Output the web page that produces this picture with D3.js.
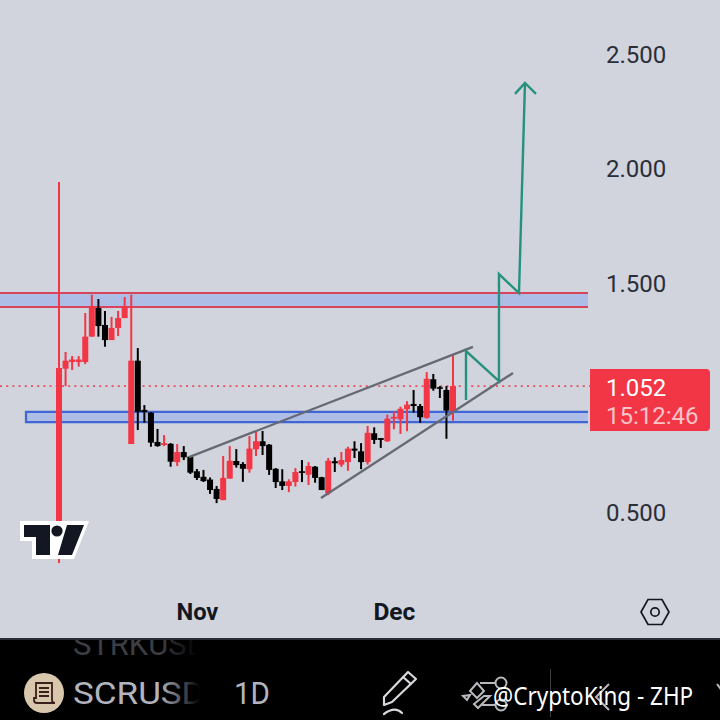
<!DOCTYPE html>
<html><head><meta charset="utf-8">
<script src="https://d3js.org/d3.v7.min.js"></script>
<style>html,body{margin:0;padding:0;background:#d1d4dc}svg{display:block}</style>
</head><body><svg id="c" width="720" height="720"></svg>
<script>
const opens=[0.358,1.128,1.157,1.157,1.157,1.268,1.393,1.319,1.253,1.306,1.349,0.799,1.163,0.948,0.936,0.808,0.795,0.800,0.720,0.764,0.744,0.680,0.656,0.644,0.603,0.554,0.648,0.725,0.712,0.689,0.776,0.811,0.796,0.691,0.636,0.616,0.633,0.680,0.665,0.700,0.654,0.584,0.724,0.709,0.720,0.779,0.767,0.720,0.846,0.825,0.811,0.910,0.907,0.951,0.974,0.965,0.913,1.082,1.047,1.035,0.942];
const closes=[1.131,1.163,1.168,1.168,1.268,1.402,1.314,1.253,1.306,1.349,1.402,1.163,0.940,0.939,0.805,0.790,0.803,0.722,0.764,0.741,0.674,0.651,0.637,0.598,0.559,0.651,0.726,0.707,0.691,0.779,0.811,0.790,0.686,0.633,0.616,0.636,0.677,0.674,0.703,0.651,0.598,0.726,0.715,0.729,0.779,0.770,0.720,0.848,0.817,0.817,0.910,0.918,0.953,0.971,0.965,0.916,1.084,1.041,1.041,0.945,1.052];
const highs=[1.943,1.201,1.183,1.183,1.371,1.451,1.432,1.380,1.354,1.380,1.441,1.451,1.218,0.969,0.939,0.865,0.838,0.803,0.799,0.790,0.744,0.690,0.686,0.653,0.616,0.747,0.790,0.777,0.720,0.834,0.851,0.856,0.799,0.694,0.689,0.645,0.694,0.729,0.720,0.703,0.656,0.738,0.741,0.764,0.787,0.811,0.803,0.878,0.872,0.825,0.927,0.942,0.962,0.986,1.035,0.974,1.113,1.105,1.052,1.052,1.186];
const lows=[0.279,1.052,1.122,1.137,1.148,1.268,1.268,1.224,1.253,1.271,1.349,0.799,0.860,0.892,0.787,0.787,0.790,0.700,0.703,0.729,0.668,0.642,0.633,0.581,0.541,0.554,0.648,0.696,0.634,0.674,0.747,0.751,0.664,0.607,0.598,0.589,0.613,0.633,0.620,0.630,0.598,0.576,0.677,0.699,0.682,0.738,0.689,0.709,0.799,0.782,0.808,0.863,0.843,0.855,0.936,0.892,0.910,1.032,1.000,0.822,0.901];
const priceTicks=[2.5,2.0,1.5,0.5];
const timeTickIndex=[21,51];
const timeTickLabels=["Nov","Dec"];
const lastPrice=1.052;
const countdown="15:12:46";
const redZone=[1.458,1.397];
const blueZone=[0.939,0.895];
const wedgeUpper=[[19.8,0.742],[63.04,1.223]];
const wedgeLower=[[39.9,0.563],[69.13,1.109]];
const projection=[[61.98,0.991],[61.98,1.205],[67.0,1.074],[67.0,1.541],[70.05,1.458],[70.96,2.376]];
const arrowHead=[[69.44,2.328],[70.96,2.376],[72.64,2.328]];

const RED="#f23645",BG="#d1d4dc",INK="#131722",FONT="Roboto, sans-serif";
const svg=d3.select("#c");
const x=d3.scaleLinear().domain([0,60]).range([59,453]);
const y=d3.scaleLinear().domain([0.5,2.5]).range([512.5,54.5]);
const paneR=588;
svg.append("rect").attr("width",720).attr("height",720).attr("fill",BG);

const line=d3.line().x(d=>x(d[0])).y(d=>y(d[1]));

// dotted last price line
svg.append("line").attr("x1",0).attr("x2",590).attr("y1",y(lastPrice)).attr("y2",y(lastPrice))
  .attr("stroke",RED).attr("stroke-width",1.8).attr("stroke-dasharray","2 4.2").attr("opacity",.85);

// zones: open on the right, as the drawing runs past the pane
svg.append("rect").attr("x",0).attr("width",paneR).attr("y",y(redZone[0])).attr("height",y(redZone[1])-y(redZone[0])).attr("fill","#aebde6");
redZone.forEach(p=>svg.append("line").attr("x1",0).attr("x2",paneR).attr("y1",y(p)).attr("y2",y(p)).attr("stroke","#d8445c").attr("stroke-width",2));
svg.append("rect").attr("x",26).attr("width",paneR-26).attr("y",y(blueZone[0])).attr("height",y(blueZone[1])-y(blueZone[0])).attr("fill","#aebde6");
svg.append("path").attr("d",`M${paneR},${y(blueZone[0])}H26V${y(blueZone[1])}H${paneR}`).attr("fill","none").attr("stroke","#3f66d4").attr("stroke-width",2.2);

// candles
const idx=d3.range(opens.length);
const col=i=>closes[i]>=opens[i]?RED:"#000";
const g=svg.append("g");
g.selectAll("line").data(idx).join("line")
  .attr("x1",x).attr("x2",x).attr("y1",i=>y(highs[i])).attr("y2",i=>y(lows[i]))
  .attr("stroke",col).attr("stroke-width",2);
g.selectAll("rect").data(idx).join("rect")
  .attr("x",i=>x(i)-3).attr("width",6)
  .attr("y",i=>y(Math.max(opens[i],closes[i])))
  .attr("height",i=>Math.max(1.6,Math.abs(y(opens[i])-y(closes[i]))))
  .attr("fill",col);

// drawings
[wedgeUpper,wedgeLower].forEach(l=>svg.append("path").attr("d",line(l)).attr("fill","none").attr("stroke","#666872").attr("stroke-width",2.3));
[projection,arrowHead].forEach(l=>svg.append("path").attr("d",line(l)).attr("fill","none").attr("stroke","#26917f").attr("stroke-width",2.4).attr("stroke-linejoin","miter"));

// axes
const yAxis=d3.axisRight(y).tickValues(priceTicks).tickFormat(d3.format(".3f")).tickSize(0).tickPadding(0);
const ya=svg.append("g").attr("transform","translate(606,0)").call(yAxis);
ya.select(".domain").remove();
ya.selectAll("text").attr("font-family",FONT).attr("font-size",24).attr("fill","#2a2e39");
const xAxis=d3.axisBottom(x).tickValues(timeTickIndex).tickFormat((d,i)=>timeTickLabels[i]).tickSize(0).tickPadding(0);
const xa=svg.append("g").attr("transform","translate(0,603)").call(xAxis);
xa.select(".domain").remove();
xa.selectAll("text").attr("font-family",FONT).attr("font-size",23.5).attr("font-weight",700).attr("fill",INK).attr("textLength",42).attr("lengthAdjust","spacingAndGlyphs");

// price tag
svg.append("path").attr("d","M590,369H706a4,4 0 0 1 4,4V427a4,4 0 0 1 -4,4H590Z").attr("fill",RED);
svg.append("text").text(d3.format(".3f")(lastPrice)).attr("x",606).attr("y",396).attr("font-family",FONT).attr("font-size",24).attr("fill","#fff");
svg.append("text").text(countdown).attr("x",606).attr("y",424).attr("font-family",FONT).attr("font-size",24).attr("fill","#fbc4ca");

// TV logo
svg.append("path").attr("d","M20,521H89L74,559H32V541H20Z").attr("fill","#fff");
svg.append("path").attr("d","M24,525H50V555H36V537H24Z M67,525H84L72,555H58Z").attr("fill",INK);
svg.append("circle").attr("cx",57).attr("cy",531).attr("r",5.6).attr("fill",INK);

// settings hexagon
svg.append("path").attr("d","M641,612L648,599.5H662L669,612L662,624.5H648Z").attr("fill","none").attr("stroke",INK).attr("stroke-width",1.7);
svg.append("circle").attr("cx",655).attr("cy",612).attr("r",4.2).attr("fill","none").attr("stroke",INK).attr("stroke-width",1.7);

// bottom bar
svg.append("rect").attr("y",639).attr("width",720).attr("height",81).attr("fill","#000");
svg.append("rect").attr("y",638).attr("width",720).attr("height",2).attr("fill","#2a2e39");
const defs=svg.append("defs");
const grad=defs.append("linearGradient").attr("id","fade").attr("gradientUnits","userSpaceOnUse").attr("x1",160).attr("x2",200).attr("y1",0).attr("y2",0);
grad.append("stop").attr("offset",0).attr("stop-color","#b2b5be");
grad.append("stop").attr("offset",1).attr("stop-color","#b2b5be").attr("stop-opacity",0);
const grad2=defs.append("linearGradient").attr("id","fade2").attr("gradientUnits","userSpaceOnUse").attr("x1",160).attr("x2",198).attr("y1",0).attr("y2",0);
grad2.append("stop").attr("offset",0).attr("stop-color","#3c3e44");
grad2.append("stop").attr("offset",1).attr("stop-color","#3c3e44").attr("stop-opacity",0);
defs.append("clipPath").attr("id","barclip").append("rect").attr("x",0).attr("y",640).attr("width",720).attr("height",80);
const bar=svg.append("g").attr("clip-path","url(#barclip)");
bar.append("text").text("STRKUSDT").attr("x",73).attr("y",655).attr("font-family",FONT).attr("font-size",31).attr("fill","url(#fade2)").attr("textLength",152).attr("lengthAdjust","spacingAndGlyphs");
bar.append("circle").attr("cx",44).attr("cy",693).attr("r",20).attr("fill","#d9c7ad");
bar.append("path").attr("d","M36,683H52V700a3,3 0 0 0 3,3H37a3,3 0 0 1 -3,-3V698H36Z M39,688H49M39,692H49M39,696H49").attr("fill","none").attr("stroke","#3a1f1a").attr("stroke-width",1.8);
bar.append("text").text("SCRUSDT").attr("x",73).attr("y",704).attr("font-family",FONT).attr("font-size",32).attr("fill","url(#fade)").attr("textLength",152).attr("lengthAdjust","spacingAndGlyphs");
bar.append("text").text("1D").attr("x",234).attr("y",704).attr("font-family",FONT).attr("font-size",32).attr("fill","#b2b5be").attr("textLength",36).attr("lengthAdjust","spacingAndGlyphs");
// pencil
bar.append("path").attr("d","M384,697L384,705L392,702L416,679L408,672Z M403,677L411,684 M384,714C392,708 398,709 402,713").attr("fill","none").attr("stroke","#d8d9dd").attr("stroke-width",2.2).attr("stroke-linejoin","round").attr("stroke-linecap","round");
// overlay tool icons beneath the watermark
const ic=bar.append("g").attr("fill","none").attr("stroke","#b8b9bf").attr("stroke-width",2);
ic.append("path").attr("d","M477,683L470,691L477,698L484,691Z M470,695L463,696L467,700Z M484,696L490,696L478,708L474,704Z");
ic.append("path").attr("d","M480,683H495 M482,705H495");
ic.append("circle").attr("cx",501).attr("cy",683).attr("r",5.5);
ic.append("circle").attr("cx",501).attr("cy",705).attr("r",5.5);
ic.append("path").attr("d","M609,684L596,697L609,710");
ic.append("path").attr("d","M717,684L723,692");
bar.append("line").attr("x1",550.5).attr("x2",550.5).attr("y1",669).attr("y2",717).attr("stroke","#3a3c42").attr("stroke-width",1);
svg.append("text").text("@CryptoKing - ZHP").attr("transform","translate(493,705) scale(1,1.14)").attr("font-family","'Noto Sans', sans-serif").attr("font-size",22.5).attr("fill","#fff");
</script></body></html>
